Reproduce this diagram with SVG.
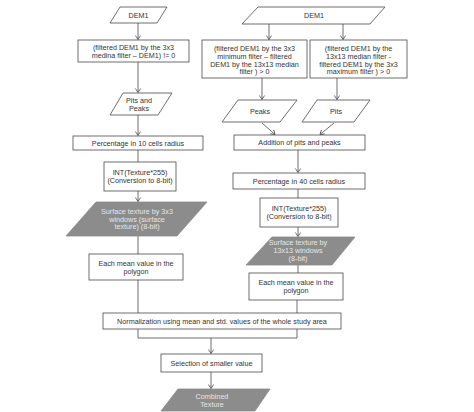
<svg xmlns="http://www.w3.org/2000/svg" width="474" height="412" viewBox="0 0 474 412">
<defs>
<style>
.box{fill:#fff;stroke:#4a4a4a;stroke-width:0.8}
.para{fill:#fff;stroke:#4a4a4a;stroke-width:0.8}
.gray{fill:#8c8c8c;stroke:#8c8c8c;stroke-width:0.8}
.t{font-family:"Liberation Sans",Arial,sans-serif;font-size:7.2px;fill:#333;text-anchor:middle}
.tw{font-family:"Liberation Sans",Arial,sans-serif;font-size:7.2px;fill:#e6e6e6;text-anchor:middle}
.ln{fill:none;stroke:#4a4a4a;stroke-width:0.8}
.ar{fill:none;stroke:#4a4a4a;stroke-width:0.8;marker-end:url(#arr)}
</style>
<marker id="arr" markerUnits="userSpaceOnUse" markerWidth="8" markerHeight="8" viewBox="-5 -4 6 8" refX="0" refY="0" orient="auto">
<path d="M-4,-2.6 L0,0 L-4,2.6" fill="none" stroke="#4a4a4a" stroke-width="0.8"/>
</marker>
</defs>
<rect width="474" height="412" fill="#fff"/>

<g id="connectors">
<path class="ar" d="M138,23 V39.5"/>
<path class="ar" d="M138,62 V92.5"/>
<path class="ar" d="M138,115 V135.5"/>
<path class="ln" d="M138,150 V162"/>
<path class="ar" d="M138,191 V201.5"/>
<path class="ln" d="M138,236 V254"/>
<path class="ln" d="M138,280 V313"/>
<path class="ar" d="M269,24 V39.5"/>
<path class="ar" d="M343,24 V39.5"/>
<path class="ar" d="M262,78 V99.5"/>
<path class="ar" d="M337,78 V99.5"/>
<path class="ar" d="M262,123 L275,134.5"/>
<path class="ar" d="M334,123 L320,134.5"/>
<path class="ar" d="M298,150 V172.5"/>
<path class="ln" d="M298,189 V198"/>
<path class="ar" d="M298,227 V236.5"/>
<path class="ln" d="M298,265 V273"/>
<path class="ln" d="M297,300 V313"/>
<path class="ln" d="M138,329 V338 H297 V329"/>
<path class="ar" d="M211,338 V353.5"/>
<path class="ar" d="M211,372 V388.5"/>
</g>

<g id="dem1-left">
<polygon class="para" points="120,7 167,7 157,23 110,23"/>
<text class="t" x="138.5" y="17.6">DEM1</text>
</g>
<g id="filter-left">
<rect class="box" x="78" y="40" width="111" height="22"/>
<text class="t" x="133.5" y="49.7">(filtered DEM1 by the 3x3</text>
<text class="t" x="133.5" y="57.5">medina filter – DEM1) != 0</text>
</g>
<g id="pits-peaks">
<polygon class="para" points="123,93 172,93 158,115 110,115"/>
<text class="t" x="139" y="102.7">Pits and</text>
<text class="t" x="139" y="110.5">Peaks</text>
</g>
<g id="pct10">
<rect class="box" x="73" y="136" width="130" height="14"/>
<text class="t" x="138" y="145.6">Percentage in 10 cells radius</text>
</g>
<g id="int-left">
<rect class="box" x="104" y="162" width="72" height="29"/>
<text class="t" x="140" y="175.2">INT(Texture*255)</text>
<text class="t" x="140" y="183">(Conversion to 8-bit)</text>
</g>
<g id="texture-left">
<polygon class="gray" points="96,202 207,202 177,236 66,236"/>
<text class="tw" x="137" y="213.8">Surface texture by 3x3</text>
<text class="tw" x="137" y="221.6">windows (surface</text>
<text class="tw" x="137" y="229.4">texture)  (8-bit)</text>
</g>
<g id="mean-left">
<rect class="box" x="89" y="254" width="94" height="26"/>
<text class="t" x="136" y="265.7">Each mean value in the</text>
<text class="t" x="136" y="273.5">polygon</text>
</g>

<g id="dem1-right">
<polygon class="para" points="258,7 385,7 370,24 242,24"/>
<text class="t" x="314" y="18.1">DEM1</text>
</g>
<g id="filter-peaks">
<rect class="box" x="202" y="40" width="105" height="38"/>
<text class="t" x="254.5" y="50.9">(filtered DEM1 by the 3x3</text>
<text class="t" x="254.5" y="58.7">minimum filter – filtered</text>
<text class="t" x="254.5" y="66.5">DEM1 by the 13x13 median</text>
<text class="t" x="254.5" y="74.3">filter ) &gt; 0</text>
</g>
<g id="filter-pits">
<rect class="box" x="310" y="40" width="97" height="38"/>
<text class="t" x="358.5" y="50.9">(filtered DEM1 by the</text>
<text class="t" x="358.5" y="58.7">13x13 median filter -</text>
<text class="t" x="358.5" y="66.5">filtered DEM1 by the 3x3</text>
<text class="t" x="358.5" y="74.3">maximum filter ) &gt; 0</text>
</g>
<g id="peaks">
<polygon class="para" points="238,100 297,100 280,122 222,122"/>
<text class="t" x="260" y="113.6">Peaks</text>
</g>
<g id="pits">
<polygon class="para" points="317,100 370,100 354,122 302,122"/>
<text class="t" x="336" y="113.6">Pits</text>
</g>
<g id="addition">
<rect class="box" x="234" y="135" width="131" height="15"/>
<text class="t" x="299.5" y="145.1">Addition of pits and peaks</text>
</g>
<g id="pct40">
<rect class="box" x="233" y="173" width="132" height="16"/>
<text class="t" x="299" y="183.6">Percentage in 40 cells radius</text>
</g>
<g id="int-right">
<rect class="box" x="260" y="198" width="78" height="29"/>
<text class="t" x="299" y="211.2">INT(Texture*255)</text>
<text class="t" x="299" y="219">(Conversion to 8-bit)</text>
</g>
<g id="texture-right">
<polygon class="gray" points="272,237 355,237 332,265 246,265"/>
<text class="tw" x="298" y="245.3">Surface texture by</text>
<text class="tw" x="298" y="253.1">13x13 windows</text>
<text class="tw" x="298" y="260.9">(8-bit)</text>
</g>
<g id="mean-right">
<rect class="box" x="249" y="273" width="94" height="27"/>
<text class="t" x="296" y="285.2">Each mean value in the</text>
<text class="t" x="296" y="293">polygon</text>
</g>

<g id="normalization">
<rect class="box" x="103" y="313" width="238" height="16"/>
<text class="t" x="222" y="323.6">Normalization using mean and std. values of the whole study area</text>
</g>
<g id="selection">
<rect class="box" x="161" y="354" width="101" height="18"/>
<text class="t" x="211.5" y="365.6">Selection of smaller value</text>
</g>
<g id="combined">
<polygon class="gray" points="178,389 270,389 255,411 161,411"/>
<text class="tw" x="212" y="398.7">Combined</text>
<text class="tw" x="212" y="406.5">Texture</text>
</g>
</svg>
